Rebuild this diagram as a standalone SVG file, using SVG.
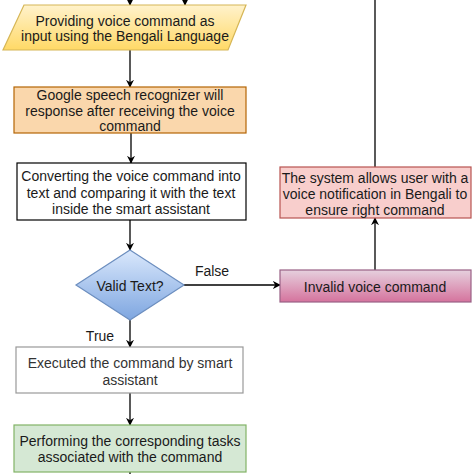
<svg xmlns="http://www.w3.org/2000/svg" width="474" height="474" viewBox="0 0 474 474">
<defs>
<linearGradient id="gY" x1="0" y1="0" x2="0" y2="1"><stop offset="0" stop-color="#fff2cc"/><stop offset="1" stop-color="#ffd966"/></linearGradient>
<linearGradient id="gB" x1="0" y1="0" x2="0" y2="1"><stop offset="0" stop-color="#dae8fc"/><stop offset="1" stop-color="#7ea6e0"/></linearGradient>
<linearGradient id="gP" x1="0" y1="0" x2="0" y2="1"><stop offset="0" stop-color="#e6d0de"/><stop offset="1" stop-color="#d5739d"/></linearGradient>
<marker id="arr" viewBox="0 0 10 10" refX="9" refY="5" markerWidth="8" markerHeight="8" markerUnits="userSpaceOnUse" orient="auto">
<path d="M0,0 L10,5 L0,10 L3,5 Z" fill="#000"/>
</marker>
<style>
text{font-family:"Liberation Sans",Arial,sans-serif;font-size:14px;fill:#1a1a1a;text-anchor:middle}
.c{fill:none;stroke:#000;stroke-width:1.3}
</style>
</defs>
<g id="connectors">
<line class="c" x1="130" y1="0" x2="130" y2="5" marker-end="url(#arr)"/>
<line class="c" x1="185" y1="0" x2="185" y2="5" marker-end="url(#arr)"/>
<line class="c" x1="130" y1="50" x2="130" y2="87" marker-end="url(#arr)"/>
<line class="c" x1="131" y1="133" x2="131" y2="163" marker-end="url(#arr)"/>
<line class="c" x1="130" y1="220" x2="130" y2="250" marker-end="url(#arr)"/>
<line class="c" x1="184" y1="285" x2="280" y2="285" marker-end="url(#arr)"/>
<text x="212" y="276" style="font-size:14px">False</text>
<line class="c" x1="130" y1="320" x2="130" y2="347" marker-end="url(#arr)"/>
<text x="100" y="341">True</text>
<line class="c" x1="130" y1="393" x2="130" y2="425" marker-end="url(#arr)"/>
<line class="c" x1="375" y1="270" x2="375" y2="218" marker-end="url(#arr)"/>
<line class="c" x1="375" y1="167" x2="375" y2="0"/>
<line class="c" x1="130" y1="472" x2="130" y2="474"/>
</g>
<g id="input">
<polygon points="24,5 246,5 228,50 3,50" fill="url(#gY)" stroke="#d6b656" stroke-width="1.2"/>
<text x="125" y="26">Providing voice command as</text>
<text x="125" y="41">input using the Bengali Language</text>
</g>
<g id="google">
<rect x="14" y="87" width="232" height="46" fill="#fad7ac" stroke="#b46504" stroke-width="1.2"/>
<text x="130" y="100">Google speech recognizer will</text>
<text x="130" y="115.5">response after receiving the voice</text>
<text x="130" y="131">command</text>
</g>
<g id="convert">
<rect x="17" y="163" width="229" height="57" fill="#ffffff" stroke="#000" stroke-width="1.2"/>
<text x="131" y="181">Converting the voice command into</text>
<text x="131" y="197.5">text and comparing it with the text</text>
<text x="131" y="214">inside the smart assistant</text>
</g>
<g id="valid">
<polygon points="130,250 184,285 130,320 76,285" fill="url(#gB)" stroke="#6c8ebf" stroke-width="1.2"/>
<text x="130" y="291">Valid Text?</text>
</g>
<g id="invalid">
<rect x="280" y="270" width="191" height="32" fill="url(#gP)" stroke="#996185" stroke-width="1.2"/>
<text x="375" y="292">Invalid voice command</text>
</g>
<g id="notify">
<rect x="280" y="167" width="191" height="51" fill="#f8cecc" stroke="#b85450" stroke-width="1.2"/>
<text x="375" y="183">The system allows user with a</text>
<text x="375" y="199">voice notification in Bengali to</text>
<text x="375" y="215">ensure right command</text>
</g>
<g id="execute">
<rect x="16" y="347" width="227" height="46" fill="#ffffff" stroke="#999999" stroke-width="1.2"/>
<text x="130" y="368" style="fill:#333">Executed the command by smart</text>
<text x="130" y="385" style="fill:#333">assistant</text>
</g>
<g id="perform">
<rect x="14" y="425" width="232" height="47" fill="#d5e8d4" stroke="#82b366" stroke-width="1.2"/>
<text x="130" y="446">Performing the corresponding tasks</text>
<text x="130" y="462">associated with the command</text>
</g>
</svg>
